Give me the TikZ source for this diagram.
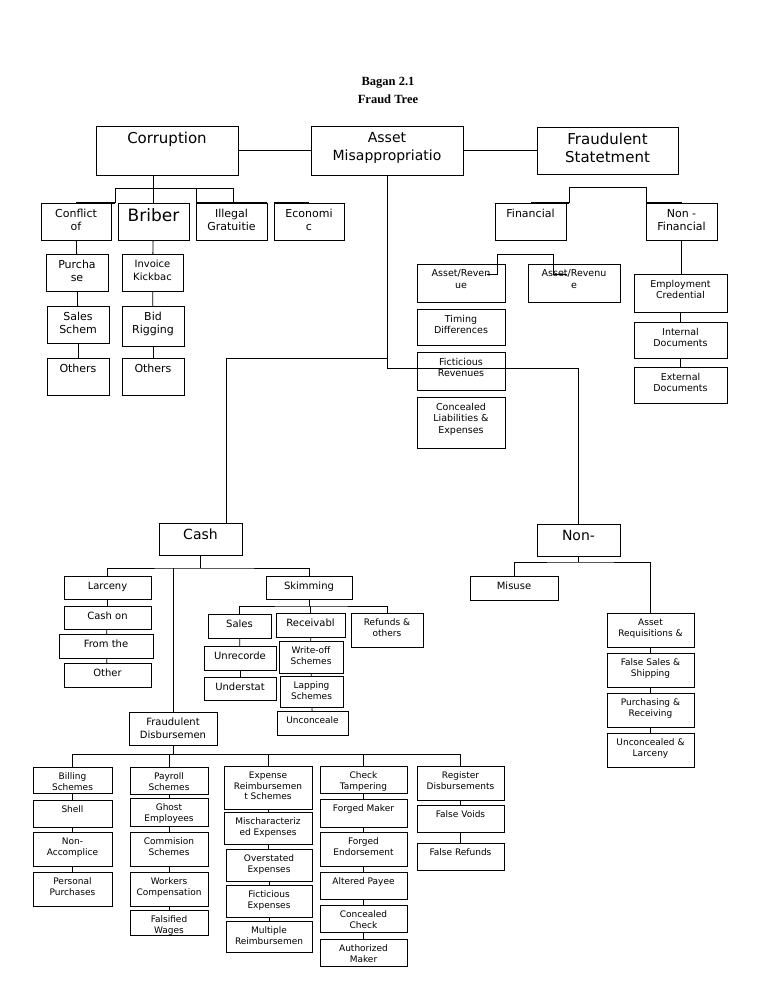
\documentclass[tikz,border=0pt]{standalone}
\usepackage{fontspec}
\setmainfont{DejaVu Sans}
\newfontfamily\titlefont{Liberation Serif}
\usepackage{tikz}

% box with its text at the top: [size]{name}{left}{top}{right}{bottom}{text}
\newcommand{\tbox}[7][stext]{%
  \node[box, #1] (#2) at (#3,#4)
    {\parbox[t][\dimexpr#6pt-#4pt\relax][t]{\dimexpr#5pt-#3pt\relax}{\centering\vspace{6pt}#7}};}

\begin{document}
\begin{tikzpicture}[
    x=1pt, y=-1pt, line width=0.8pt,
    box/.style={draw, anchor=north west, inner sep=0pt, outer sep=0pt},
    topline/.style={line width=1.8pt},
    bigtext/.style={font=\fontsize{15}{18}\selectfont},
    midtext/.style={font=\fontsize{14}{18}\selectfont},
    brtext/.style={font=\fontsize{17}{20}\selectfont},
    ltext/.style={font=\fontsize{11}{13}\selectfont},
    mtext/.style={font=\fontsize{10}{12.5}\selectfont},
    stext/.style={font=\fontsize{9.5}{11.5}\selectfont},
    xstext/.style={font=\fontsize{9}{10.5}\selectfont}
]
    \useasboundingbox (0,0) rectangle (768,994);

    % Nodes
    \node[font=\titlefont\bfseries\fontsize{12.5}{18}\selectfont, align=center] (title) at (388,90) {Bagan 2.1\\Fraud Tree};
    \tbox[bigtext]{corr}{96}{126}{238}{175}{Corruption}
    \tbox[midtext]{asset}{311}{126}{463}{175}{Asset\\Misappropriatio}
    \tbox[bigtext]{fraud}{537}{127}{678}{174}{Fraudulent\\Statetment}

    % corruption
    \tbox[ltext]{conf}{41}{203}{111}{240}{Conflict\\of}
    \tbox[brtext]{brib}{118}{203}{189}{240}{Briber}
    \tbox[ltext]{grat}{196}{203}{267}{240}{Illegal\\Gratuitie}
    \tbox[ltext]{econ}{274}{203}{344}{240}{Economi\\c}
    \tbox[ltext]{purch}{46}{254}{108}{291}{Purcha\\se}
    \tbox[ltext]{salsch}{47}{306}{109}{343}{Sales\\Schem}
    \tbox[ltext]{othc}{47}{358}{109}{395}{Others}
    \tbox[mtext]{kick}{122}{254}{183}{291}{Invoice\\Kickbac}
    \tbox[ltext]{bid}{122}{306}{184}{346}{Bid\\Rigging}
    \tbox[ltext]{othb}{122}{358}{184}{395}{Others}

    % fraudulent statement
    \tbox[ltext]{fin}{495}{203}{566}{240}{Financial}
    \tbox[ltext]{nfin}{646}{203}{717}{240}{Non -\\Financial}
    \tbox{arc}{417}{264}{505}{302}{Asset/Reven\\ue}
    \tbox{aru}{528}{264}{620}{302}{Asset/Revenu\\e}
    \tbox{timing}{417}{309}{505}{345}{Timing\\Differences}
    \tbox{ficrev}{417}{352}{505}{390}{Ficticious\\Revenues}
    \tbox{concl}{417}{397}{505}{448}{Concealed\\Liabilities \&\\Expenses}
    \tbox{empl}{634}{274}{727}{312}{Employment\\Credential}
    \tbox{intdoc}{634}{322}{727}{358}{Internal\\Documents}
    \tbox{extdoc}{634}{367}{727}{403}{External\\Documents}

    % asset misappropriation
    \tbox[midtext]{cash}{159}{523}{242}{555}{Cash}
    \tbox[midtext]{noncash}{537}{524}{620}{556}{Non-}
    \tbox[mtext]{larc}{64}{576}{151}{599}{Larceny}
    \tbox[mtext]{cashon}{64}{606}{151}{629}{Cash on}
    \tbox[mtext]{fromthe}{59}{634}{153}{658}{From the}
    \tbox[mtext]{other}{64}{663}{151}{687}{Other}
    \tbox[mtext]{skim}{266}{576}{352}{599}{Skimming}
    \tbox[mtext]{sales}{208}{614}{271}{638}{Sales}
    \tbox[mtext]{recv}{276}{613}{345}{637}{Receivabl}
    \tbox[xstext]{refund}{351}{613}{423}{647}{Refunds \&\\others}
    \tbox[mtext]{unrec}{204}{646}{276}{670}{Unrecorde}
    \tbox[mtext]{under}{204}{677}{276}{700}{Understat}
    \tbox[xstext]{wroff}{279}{641}{343}{673}{Write-off\\Schemes}
    \tbox[xstext]{lapp}{280}{676}{343}{707}{Lapping\\Schemes}
    \tbox[xstext]{uncon}{277}{711}{348}{735}{Unconceale}
    \tbox[mtext]{fdis}{129}{712}{217}{745}{Fraudulent\\Disbursemen}
    \tbox[mtext]{misuse}{470}{576}{558}{600}{Misuse}
    \tbox[xstext]{areq}{607}{613}{694}{647}{Asset\\Requisitions \&}
    \tbox[xstext]{fsale}{607}{653}{694}{687}{False Sales \&\\Shipping}
    \tbox[xstext]{purrec}{607}{693}{694}{727}{Purchasing \&\\Receiving}
    \tbox[xstext]{unlarc}{607}{733}{694}{767}{Unconcealed \&\\Larceny}

    % fraudulent disbursements
    \tbox[xstext]{bill}{33}{767}{112}{793}{Billing\\Schemes}
    \tbox[xstext]{shell}{33}{800}{112}{827}{Shell}
    \tbox[xstext]{nonacc}{33}{832}{112}{866}{Non-\\Accomplice}
    \tbox[xstext]{perpur}{33}{872}{112}{906}{Personal\\Purchases}
    \tbox[xstext]{pay}{130}{767}{208}{794}{Payroll\\Schemes}
    \tbox[xstext]{ghost}{130}{798}{208}{826}{Ghost\\Employees}
    \tbox[xstext]{comm}{130}{832}{208}{866}{Commision\\Schemes}
    \tbox[xstext]{work}{130}{872}{208}{906}{Workers\\Compensation}
    \tbox[xstext]{falw}{130}{910}{208}{935}{Falsified\\Wages}
    \tbox[xstext]{exp}{224}{766}{312}{809}{Expense\\Reimbursemen\\t Schemes}
    \tbox[xstext]{misch}{224}{812}{312}{844}{Mischaracteriz\\ed Expenses}
    \tbox[xstext]{overst}{226}{849}{312}{881}{Overstated\\Expenses}
    \tbox[xstext]{ficexp}{226}{885}{312}{917}{Ficticious\\Expenses}
    \tbox[xstext]{mult}{226}{921}{312}{952}{Multiple\\Reimbursemen}
    \tbox[xstext]{chk}{320}{766}{407}{793}{Check\\Tampering}
    \tbox[xstext]{fmaker}{320}{799}{407}{827}{Forged Maker}
    \tbox[xstext]{fendo}{320}{832}{407}{866}{Forged\\Endorsement}
    \tbox[xstext]{altp}{320}{872}{407}{899}{Altered Payee}
    \tbox[xstext]{conchk}{320}{905}{407}{932}{Concealed\\Check}
    \tbox[xstext]{authm}{320}{939}{407}{966}{Authorized\\Maker}
    \tbox[xstext]{reg}{417}{766}{504}{800}{Register\\Disbursements}
    \tbox[xstext]{fvoid}{417}{805}{504}{832}{False Voids}
    \tbox[xstext]{fref}{417}{843}{504}{870}{False Refunds}

    % Lines
    \draw (corr) -- (asset);
    \draw (asset) -- (fraud);

    % corruption bracket
    \coordinate (cL) at (115,188);
    \coordinate (cR) at (233,188);
    \draw (cL) -- (cR);
    \draw (corr.south -| brib.north) -- (brib.north);
    \draw (cL) -- (cL |- conf.north);
    \draw[topline] (cL |- conf.north) -- (conf.north);
    \draw (grat.north west |- cL) -- (grat.north west);
    \draw (cR) -- (cR |- grat.north);
    \draw[topline] (grat.north west) -- (grat.north east);
    \draw[topline] (econ.north west) -- (econ.north);
    \draw (conf) -- (purch);
    \draw (purch) -- (salsch);
    \draw (salsch) -- (othc);
    \draw (brib) -- (kick);
    \draw (kick) -- (bid);
    \draw (bid) -- (othb);

    % fraudulent statement bracket
    \coordinate (fL) at (569,187);
    \coordinate (fR) at (646,187);
    \draw (fL |- fin.north) -- (fL) -- (fR) -- (nfin.north west);
    \draw[topline] (fL |- fin.north) -- (fin.north);
    \draw[topline] (nfin.north west) -- (nfin.north);
    \coordinate (rL) at (497,254);
    \coordinate (rR) at (553,254);
    \coordinate (rLd) at (487,274);
    \coordinate (rRd) at (567,274);
    \draw (rLd) -| (rL) -- (rR) |- (rRd);
    \draw (nfin.south) -- (nfin.south |- empl.north);
    \draw (empl) -- (intdoc);
    \draw (intdoc) -- (extdoc);

    % asset misappropriation branches
    \coordinate (aL) at (387,358);
    \coordinate (aR) at (387,368);
    \draw (asset.south) -- (aR) -| (noncash.north);
    \draw (aL) -| ([xshift=25.5pt]cash.north);

    % cash
    \coordinate (cb) at (200.5,568);
    \draw (cash.south) -- (cb);
    \draw (larc.north) |- (cb) -| (skim.north);
    \draw (fdis.north) -- (fdis.north |- cb);
    \draw (larc) -- (cashon);
    \draw (cashon) -- (fromthe);
    \draw (fromthe) -- (other);
    \coordinate (sb) at (309,606);
    \draw (skim.south) -- (sb);
    \draw (sales.north) |- (sb) -| (refund.north);
    \draw (recv.north) -- (recv.north |- sb);
    \draw (sales) -- (unrec);
    \draw (unrec) -- (under);
    \draw (recv) -- (wroff);
    \draw (wroff) -- (lapp);
    \draw (lapp) -- (uncon);

    % non-cash
    \coordinate (nb) at (578.5,562);
    \draw (noncash.south) -- (nb);
    \draw (misuse.north) |- (nb) -| (areq.north);
    \draw (areq) -- (fsale);
    \draw (fsale) -- (purrec);
    \draw (purrec) -- (unlarc);

    % fraudulent disbursements
    \coordinate (fb) at (173,754);
    \draw (fdis.south) -- (fb);
    \draw (bill.north) |- (fb) -| (reg.north);
    \draw (pay.north) -- (pay.north |- fb);
    \draw (exp.north) -- (exp.north |- fb);
    \draw (chk.north) -- (chk.north |- fb);
    \draw (bill) -- (shell);
    \draw (shell) -- (nonacc);
    \draw (nonacc) -- (perpur);
    \draw (pay) -- (ghost);
    \draw (ghost) -- (comm);
    \draw (comm) -- (work);
    \draw (work) -- (falw);
    \draw (exp) -- (misch);
    \draw (misch) -- (overst);
    \draw (overst) -- (ficexp);
    \draw (ficexp) -- (mult);
    \draw (chk) -- (fmaker);
    \draw (fmaker) -- (fendo);
    \draw (fendo) -- (altp);
    \draw (altp) -- (conchk);
    \draw (conchk) -- (authm);
    \draw (reg) -- (fvoid);
    \draw (fvoid) -- (fref);
\end{tikzpicture}
\end{document}
